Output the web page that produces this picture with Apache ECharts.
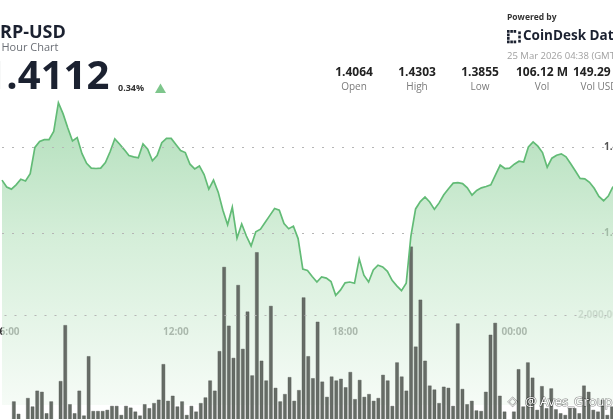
<!DOCTYPE html>
<html>
<head>
<meta charset="utf-8">
<script src="https://cdn.jsdelivr.net/npm/echarts@6/dist/echarts.min.js"></script>
<style>
  html, body { margin: 0; padding: 0; background: #fff; }
  #chart { width: 613px; height: 419px; }
</style>
</head>
<body>
<div id="chart"></div>
<script>
// 10 minute slots, 05:50 -> 03:30 (visible part of the 24h window)
const times = []
for (let m = 350; m <= 1650; m += 10) {
  const h = Math.floor(m / 60) % 24
  times.push(String(h).padStart(2, '0') + ':' + String(m % 60).padStart(2, '0'))
}
const timeTicks = ['06:00', '12:00', '18:00', '00:00']
const priceTicks = [1.40, 1.42]
const volumeTicks = [2]

// XRP-USD price, one point per slot
const price = [
  1.4123, 1.4107, 1.4102, 1.4112, 1.4125, 1.4121, 1.4138, 1.4199, 1.4213, 1.4217,
  1.4217, 1.4236, 1.4303, 1.4277, 1.4244, 1.4214, 1.4222, 1.4185, 1.4162, 1.4151,
  1.4150, 1.4151, 1.4164, 1.4189, 1.4219, 1.4207, 1.4194, 1.4180, 1.4177, 1.4175,
  1.4207, 1.4195, 1.4168, 1.4180, 1.4210, 1.4220, 1.4220, 1.4206, 1.4192, 1.4187,
  1.4160, 1.4149, 1.4156, 1.4136, 1.4102, 1.4123, 1.4095, 1.4053, 1.4019, 1.4060,
  1.3988, 1.4021, 1.3993, 1.3970, 1.4003, 1.4009, 1.4025, 1.4041, 1.4057, 1.4053,
  1.4022, 1.4010, 1.4016, 1.3987, 1.3916, 1.3913, 1.3899, 1.3886, 1.3898, 1.3895,
  1.3887, 1.3855, 1.3867, 1.3884, 1.3886, 1.3883, 1.3940, 1.3902, 1.3886, 1.3914,
  1.3925, 1.3921, 1.3911, 1.3890, 1.3877, 1.3866, 1.3883, 1.3993, 1.4056, 1.4073,
  1.4084, 1.4072, 1.4055, 1.4070, 1.4089, 1.4103, 1.4116, 1.4117, 1.4115, 1.4105,
  1.4088, 1.4099, 1.4105, 1.4108, 1.4112, 1.4135, 1.4158, 1.4150, 1.4151, 1.4160,
  1.4167, 1.4165, 1.4200, 1.4212, 1.4202, 1.4187, 1.4153, 1.4174, 1.4181, 1.4184,
  1.4177, 1.4161, 1.4144, 1.4127, 1.4126, 1.4118, 1.4104, 1.4085, 1.4075, 1.4086,
  1.4108
]

// volume per slot, millions
const volume = [
  0.12, 0.12, 0.47, 0.25, 0.12, 0.53, 0.38, 0.66, 0.64, 0.26,
  0.47, 0.12, 0.83, 1.82, 0.42, 0.26, 0.66, 0.22, 1.27, 0.30,
  0.30, 0.30, 0.32, 0.39, 0.39, 0.23, 0.39, 0.36, 0.29, 0.22,
  0.42, 0.35, 0.44, 0.50, 1.13, 0.48, 0.57, 0.38, 0.47, 0.23,
  0.39, 0.29, 0.44, 0.54, 0.84, 0.66, 1.36, 2.85, 1.81, 1.24,
  2.53, 1.40, 2.06, 0.93, 3.11, 1.19, 0.84, 2.16, 0.71, 0.47,
  0.60, 0.90, 0.48, 0.67, 2.31, 1.27, 0.88, 1.88, 0.82, 0.55,
  0.91, 0.84, 0.87, 0.72, 0.99, 0.51, 0.85, 0.55, 0.60, 0.48,
  0.53, 0.94, 0.84, 0.39, 1.16, 0.91, 0.66, 3.21, 1.44, 2.27,
  1.19, 0.75, 0.68, 0.44, 0.73, 0.71, 0.39, 1.85, 0.69, 0.42,
  0.48, 0.31, 0.30, 0.64, 1.65, 1.86, 0.57, 0.29, 0.14, 0.29,
  1.04, 0.38, 1.16, 0.89, 0.32, 0.74, 0.35, 0.70, 0.33, 0.26,
  0.23, 0.35, 0.35, 0.26, 0.75, 0.64, 0.32, 0.29, 0.50, 0.23,
  0.38
]

const stats = [
  { value: '1.4064', label: 'Open', x: 354 },
  { value: '1.4303', label: 'High', x: 417 },
  { value: '1.3855', label: 'Low', x: 480 },
  { value: '106.12 M', label: 'Vol', x: 542 },
  { value: '149.29 M', label: 'Vol USD', x: 599 }
]

const FONT = "'Open Sans', 'Noto Sans', sans-serif"

function txt(text, x, y, size, color, weight, align) {
  return {
    type: 'text',
    silent: true,
    z: 10,
    style: {
      text: text, x: x, y: y,
      fill: color,
      font: (weight || 'normal') + ' ' + size + 'px ' + FONT,
      align: align || 'left', textAlign: align || 'left',
      verticalAlign: 'middle', textVerticalAlign: 'middle'
    }
  }
}

const dotted = { type: [2, 8], color: '#b5b5b5', width: 1.2 }
const near = (v, list) => list.some(t => Math.abs(t - v) < 1e-6)

const graphic = [
  txt('XRP-USD', -12, 33, 18, '#1b2130', 'bold'),
  txt('24 Hour Chart', -14, 48, 11, '#6b6f76'),
  txt('1.4112', -16.5, 78, 40, '#1b2130', 'bold'),
  txt('0.34%', 118, 88, 9, '#333', 'bold'),
  { type: 'polygon', silent: true, shape: { points: [[155, 93], [166, 93], [160.5, 83.5]] }, style: { fill: '#7ec68c' } },
  txt('Powered by', 507, 17.5, 8.5, '#333', 'bold'),
  txt('CoinDesk Data', 523, 36.5, 13.5, '#1b2130', 'bold'),
  txt('25 Mar 2026 04:38 (GMT)', 507, 56.5, 9.5, '#a0a0a0'),
  txt('@ Aves_Group', 525, 402, 13, '#ffffff'),
  txt('\u25C7', 508, 402, 12, '#ffffff')
]
// watermark outline
graphic[8].style.stroke = 'rgba(0,0,0,0.45)'
graphic[8].style.lineWidth = 1.2
graphic[9].style.stroke = 'rgba(0,0,0,0.45)'
graphic[9].style.lineWidth = 1.2

// logo squares
const logo = [[0, 0], [1, 0], [2, 0], [0, 1], [0, 2], [0, 3], [1, 3], [2, 3], [3.4, 0.4], [3.4, 1.6], [3.4, 2.8]]
logo.forEach(p => graphic.push({
  type: 'rect', silent: true,
  shape: { x: 507 + p[0] * 3.3, y: 30 + p[1] * 3.5, width: 2.6, height: 2.8 },
  style: { fill: '#1b2130' }
}))

stats.forEach(s => {
  graphic.push(txt(s.value, s.x, 72.5, 12, '#222', 'bold', 'center'))
  graphic.push(txt(s.label, s.x, 87.5, 10, '#7a7a7a', 'normal', 'center'))
})

const chart = echarts.init(document.getElementById('chart'), null, { renderer: 'canvas' })

chart.setOption({
  backgroundColor: '#fff',
  animation: false,
  textStyle: { fontFamily: FONT },
  graphic: graphic,
  grid: [
    { left: 2, right: 0, top: 61, bottom: 14, containLabel: false, outerBoundsMode: 'none' },
    { left: 4.5, right: 1, top: 89, bottom: -9, containLabel: false, outerBoundsMode: 'none' }
  ],
  xAxis: [
    {
      type: 'category', gridIndex: 0, data: times, boundaryGap: false,
      position: 'bottom', offset: -80,
      axisLine: { show: false }, axisTick: { show: false },
      axisLabel: {
        interval: (i, v) => timeTicks.includes(v),
        color: '#333', fontWeight: 'bold', fontSize: 10, margin: 2
      }
    },
    {
      type: 'category', gridIndex: 1, data: times, boundaryGap: false, show: false
    }
  ],
  yAxis: [
    {
      type: 'value', gridIndex: 0, min: 1.36, max: 1.44, interval: 0.02,
      position: 'right', offset: -9,
      splitLine: { show: false }, axisLine: { show: false }, axisTick: { show: false },
      axisLabel: {
        margin: 0, color: '#555', fontWeight: 'bold', fontSize: 10,
        formatter: v => near(v, priceTicks) ? v.toFixed(2) : ''
      }
    },
    {
      type: 'value', gridIndex: 1, min: 0, max: 6, interval: 2,
      position: 'right', offset: -34,
      splitLine: { show: false }, axisLine: { show: false }, axisTick: { show: false },
      axisLabel: {
        margin: 0, color: '#a8a8a8', fontWeight: 'bold', fontSize: 10,
        formatter: v => near(v, volumeTicks) ? (v * 1e6).toLocaleString('en-US') : ''
      }
    }
  ],
  series: [
    {
      name: 'area', type: 'line', xAxisIndex: 0, yAxisIndex: 0, data: price,
      symbol: 'none', silent: true, z: 1, smooth: false,
      lineStyle: { width: 0 },
      areaStyle: {
        origin: 'start',
        color: new echarts.graphic.LinearGradient(0, 0, 0, 1, [
          { offset: 0, color: '#8fd09c' },
          { offset: 0.45, color: '#c3e7c9' },
          { offset: 1, color: '#f2faf3' }
        ])
      },
      markLine: {
        silent: true, symbol: 'none', label: { show: false },
        lineStyle: dotted,
        data: priceTicks.map(v => ({ yAxis: v }))
      }
    },
    {
      name: 'Vol', type: 'bar', xAxisIndex: 1, yAxisIndex: 1, data: volume,
      barWidth: 3.5, z: 2,
      itemStyle: { color: '#666c66', borderColor: '#525752', borderWidth: 0.4 },
      markLine: {
        silent: true, symbol: 'none', label: { show: false },
        lineStyle: dotted,
        data: volumeTicks.map(v => ({ yAxis: v }))
      }
    },
    {
      name: 'XRP-USD', type: 'line', xAxisIndex: 0, yAxisIndex: 0, data: price,
      symbol: 'none', z: 3, smooth: false,
      lineStyle: { color: '#62bb76', width: 1.7, join: 'miter' }
    }
  ]
})
</script>
</body>
</html>
